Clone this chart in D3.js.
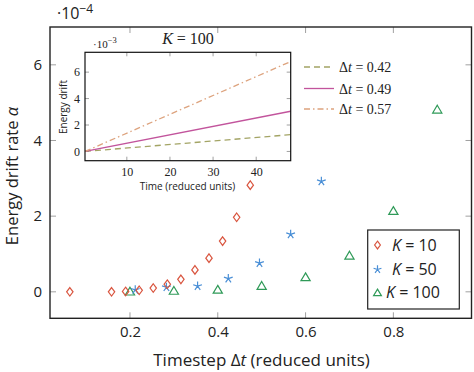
<!DOCTYPE html>
<html><head><meta charset="utf-8">
<script src="https://cdn.jsdelivr.net/npm/d3@7"></script>
<style>body{margin:0;background:#fff}svg{display:block}</style>
</head><body>
<svg id="c" width="474" height="372"></svg>
<script>
// ---- data ----
const k10_dt = [0.063,0.158,0.19,0.221,0.253,0.285,0.316,0.348,0.38,0.411,0.443,0.474];
const k10_v  = [0.0,0.0,0.01,0.04,0.1,0.2,0.33,0.58,0.89,1.34,1.97,2.82];
const k50_dt = [0.212,0.283,0.354,0.424,0.495,0.566,0.636];
const k50_v  = [0.05,0.12,0.15,0.35,0.76,1.52,2.92];
const k100_dt = [0.2,0.3,0.4,0.5,0.6,0.7,0.8,0.9];
const k100_v  = [0.0,0.02,0.05,0.15,0.38,0.95,2.13,4.81];
const xTicks = [0.2,0.4,0.6,0.8];
const yTicks = [0,2,4,6];
const insetT = [0.3,48];
const drift042 = [0,1.27];
const drift049 = [0,3.04];
const drift057 = [0,6.8];
const insetXTicks = [10,20,30,40];
const insetYTicks = [0,2,4,6];
const legendLabels = ["10","50","100"];
const insetLegend = ["0.42","0.49","0.57"];

const svg = d3.select("#c");
const SANS = "'Open Sans', sans-serif";
const SERIF = "'Liberation Serif', serif";
const cRed="#d9553f", cBlue="#4a8fd6", cGreen="#2f9a58";
const cOlive="#a3a465", cMag="#c2549c", cOrange="#dda37e";

// main axes
const L=50,R=471.5,T=27,B=318.3;
const x = d3.scaleLinear().domain([0.0178,0.978]).range([L,R]);
const y = d3.scaleLinear().domain([-0.7,7]).range([B,T]);

const g = svg.append("g");
const tk=6, tcol="#a0a0a0";
xTicks.forEach(t=>{
  g.append("line").attr("x1",x(t)).attr("x2",x(t)).attr("y1",B).attr("y2",B-tk).attr("stroke",tcol);
  g.append("line").attr("x1",x(t)).attr("x2",x(t)).attr("y1",T).attr("y2",T+tk).attr("stroke",tcol);
});
yTicks.forEach(t=>{
  g.append("line").attr("x1",L).attr("x2",L+tk).attr("y1",y(t)).attr("y2",y(t)).attr("stroke",tcol);
  g.append("line").attr("x1",R).attr("x2",R-tk).attr("y1",y(t)).attr("y2",y(t)).attr("stroke",tcol);
});
const xa = d3.axisBottom(x).tickValues(xTicks).tickSize(0).tickPadding(8).tickFormat(d3.format(".1f"));
const ga = g.append("g").attr("transform",`translate(0,${B})`).call(xa);
ga.select(".domain").remove();
ga.selectAll("text").attr("font-family",SANS).attr("font-size",15).attr("fill","#222");
const ya = d3.axisLeft(y).tickValues(yTicks).tickSize(0).tickPadding(8);
const gy = g.append("g").attr("transform",`translate(${L},0)`).call(ya);
gy.select(".domain").remove();
gy.selectAll("text").attr("font-family",SANS).attr("font-size",15).attr("fill","#222");

// exponent label
const ex = svg.append("text").attr("x",57).attr("y",19).attr("font-family",SANS).attr("font-size",16).attr("fill","#222");
ex.append("tspan").text("·10");
ex.append("tspan").attr("dy",-6).attr("font-size",12).text("−4");

// axis labels
svg.append("text").attr("x",261.5).attr("y",366).attr("text-anchor","middle").attr("font-family",SANS).attr("font-size",17).attr("fill","#222")
  .html('Timestep Δ<tspan font-style="italic">t</tspan> (reduced units)');
svg.append("text").attr("transform","translate(18,176) rotate(-90)").attr("text-anchor","middle").attr("font-family",SANS).attr("font-size",16.5).attr("fill","#222")
  .html('Energy drift rate <tspan font-style="italic">α</tspan>');

// markers
function diamond(sel,cx,cy,c,s=1){sel.append("path").attr("d",`M${cx},${cy-4.3*s}L${cx+3.2*s},${cy}L${cx},${cy+4.3*s}L${cx-3.2*s},${cy}Z`).attr("fill","none").attr("stroke",c).attr("stroke-width",1.2);}
function star(sel,cx,cy,c,s=1){
  let d="";for(let i=0;i<5;i++){const a=-Math.PI/2+i*2*Math.PI/5;d+=`M${cx},${cy}L${cx+4.6*s*Math.cos(a)},${cy+4.6*s*Math.sin(a)}`;}
  sel.append("path").attr("d",d).attr("fill","none").attr("stroke",c).attr("stroke-width",1.2);}
function tri(sel,cx,cy,c,s=1){sel.append("path").attr("d",`M${cx},${cy-4.6*s}L${cx+4.6*s},${cy+3.2*s}L${cx-4.6*s},${cy+3.2*s}Z`).attr("fill","none").attr("stroke",c).attr("stroke-width",1.2);}

const pts = svg.append("g");
k100_dt.forEach((d,i)=>tri(pts,x(d),y(k100_v[i]),cGreen));
k50_dt.forEach((d,i)=>star(pts,x(d),y(k50_v[i]),cBlue));
k10_dt.forEach((d,i)=>diamond(pts,x(d),y(k10_v[i]),cRed));

// main box
svg.append("rect").attr("x",L).attr("y",T).attr("width",R-L).attr("height",B-T).attr("fill","none").attr("stroke","#222").attr("stroke-width",1.4);

// legend
const lg = svg.append("g");
lg.append("rect").attr("x",367.7).attr("y",230).attr("width",91.6).attr("height",79).attr("fill","#fff").attr("stroke","#222").attr("stroke-width",1.2);
const lys=[245,269.5,292];
diamond(lg,377.5,lys[0],cRed,0.9);
star(lg,377.5,lys[1],cBlue,0.9);
tri(lg,377.5,lys[2]+1,cGreen,0.85);
legendLabels.forEach((l,i)=>{
  lg.append("text").attr("x",i==2?386:392).attr("y",lys[i]+5.5).attr("font-family",SANS).attr("font-size",16).attr("fill","#222")
   .html(`<tspan font-style="italic">K</tspan> = ${l}`);
});

// inset
const iL=85,iR=290.7,iT=52.3,iB=160.7;
const ix = d3.scaleLinear().domain([0.3,48]).range([iL,iR]);
const iy = d3.scaleLinear().domain([-0.7,7.5]).range([iB,iT]);
const ig = svg.append("g");
ig.append("rect").attr("x",iL).attr("y",iT).attr("width",iR-iL).attr("height",iB-iT).attr("fill","#fff");
const itk=4;
insetXTicks.forEach(t=>{
  ig.append("line").attr("x1",ix(t)).attr("x2",ix(t)).attr("y1",iB).attr("y2",iB-itk).attr("stroke",tcol);
  ig.append("line").attr("x1",ix(t)).attr("x2",ix(t)).attr("y1",iT).attr("y2",iT+itk).attr("stroke",tcol);
});
insetYTicks.forEach(t=>{
  ig.append("line").attr("x1",iL).attr("x2",iL+itk).attr("y1",iy(t)).attr("y2",iy(t)).attr("stroke",tcol);
  ig.append("line").attr("x1",iR).attr("x2",iR-itk).attr("y1",iy(t)).attr("y2",iy(t)).attr("stroke",tcol);
});
const ixa = ig.append("g").attr("transform",`translate(0,${iB})`).call(d3.axisBottom(ix).tickValues(insetXTicks).tickSize(0).tickPadding(7));
ixa.select(".domain").remove();
ixa.selectAll("text").attr("font-family",SERIF).attr("font-size",12).attr("fill","#222");
const iya = ig.append("g").attr("transform",`translate(${iL},0)`).call(d3.axisLeft(iy).tickValues(insetYTicks).tickSize(0).tickPadding(5));
iya.select(".domain").remove();
iya.selectAll("text").attr("font-family",SERIF).attr("font-size",12).attr("fill","#222");

const line = d3.line().x((d,i)=>ix(insetT[i])).y(d=>iy(d));
ig.append("path").attr("d",line(drift042)).attr("fill","none").attr("stroke",cOlive).attr("stroke-width",1.3).attr("stroke-dasharray","6,4");
ig.append("path").attr("d",line(drift049)).attr("fill","none").attr("stroke",cMag).attr("stroke-width",1.3);
ig.append("path").attr("d",line(drift057)).attr("fill","none").attr("stroke",cOrange).attr("stroke-width",1.3).attr("stroke-dasharray","6,3,1.5,3");
ig.append("rect").attr("x",iL).attr("y",iT).attr("width",iR-iL).attr("height",iB-iT).attr("fill","none").attr("stroke","#111").attr("stroke-width",1.2);

svg.append("text").attr("x",187.5).attr("y",190).attr("text-anchor","middle").attr("font-family",SANS).attr("font-size",10).attr("fill","#222").text("Time (reduced units)");
svg.append("text").attr("transform","translate(67,107) rotate(-90)").attr("text-anchor","middle").attr("font-family",SANS).attr("font-size",10).attr("fill","#222").text("Energy drift");
const ex3 = svg.append("text").attr("x",93).attr("y",48).attr("font-family",SERIF).attr("font-size",11).attr("fill","#222");
ex3.append("tspan").text("·10");
ex3.append("tspan").attr("dy",-5).attr("font-size",8.5).text("−3");
svg.append("text").attr("x",188).attr("y",44).attr("text-anchor","middle").attr("font-family",SERIF).attr("font-size",16).attr("fill","#222")
  .html('<tspan font-style="italic">K</tspan> = 100');

// inset legend
const ily=[67,88.5,109];
const iCols=[cOlive,cMag,cOrange], iDash=["6,4",null,"6,3,1.5,3"];
insetLegend.forEach((l,i)=>{
  const ln = svg.append("line").attr("x1",304).attr("x2",334).attr("y1",ily[i]).attr("y2",ily[i]).attr("stroke",iCols[i]).attr("stroke-width",1.3);
  if(iDash[i]) ln.attr("stroke-dasharray",iDash[i]);
  svg.append("text").attr("x",339).attr("y",ily[i]+5).attr("font-family",SERIF).attr("font-size",14).attr("fill","#222")
    .html(`Δ<tspan font-style="italic">t</tspan> = ${l}`);
});
</script>
</body></html>
